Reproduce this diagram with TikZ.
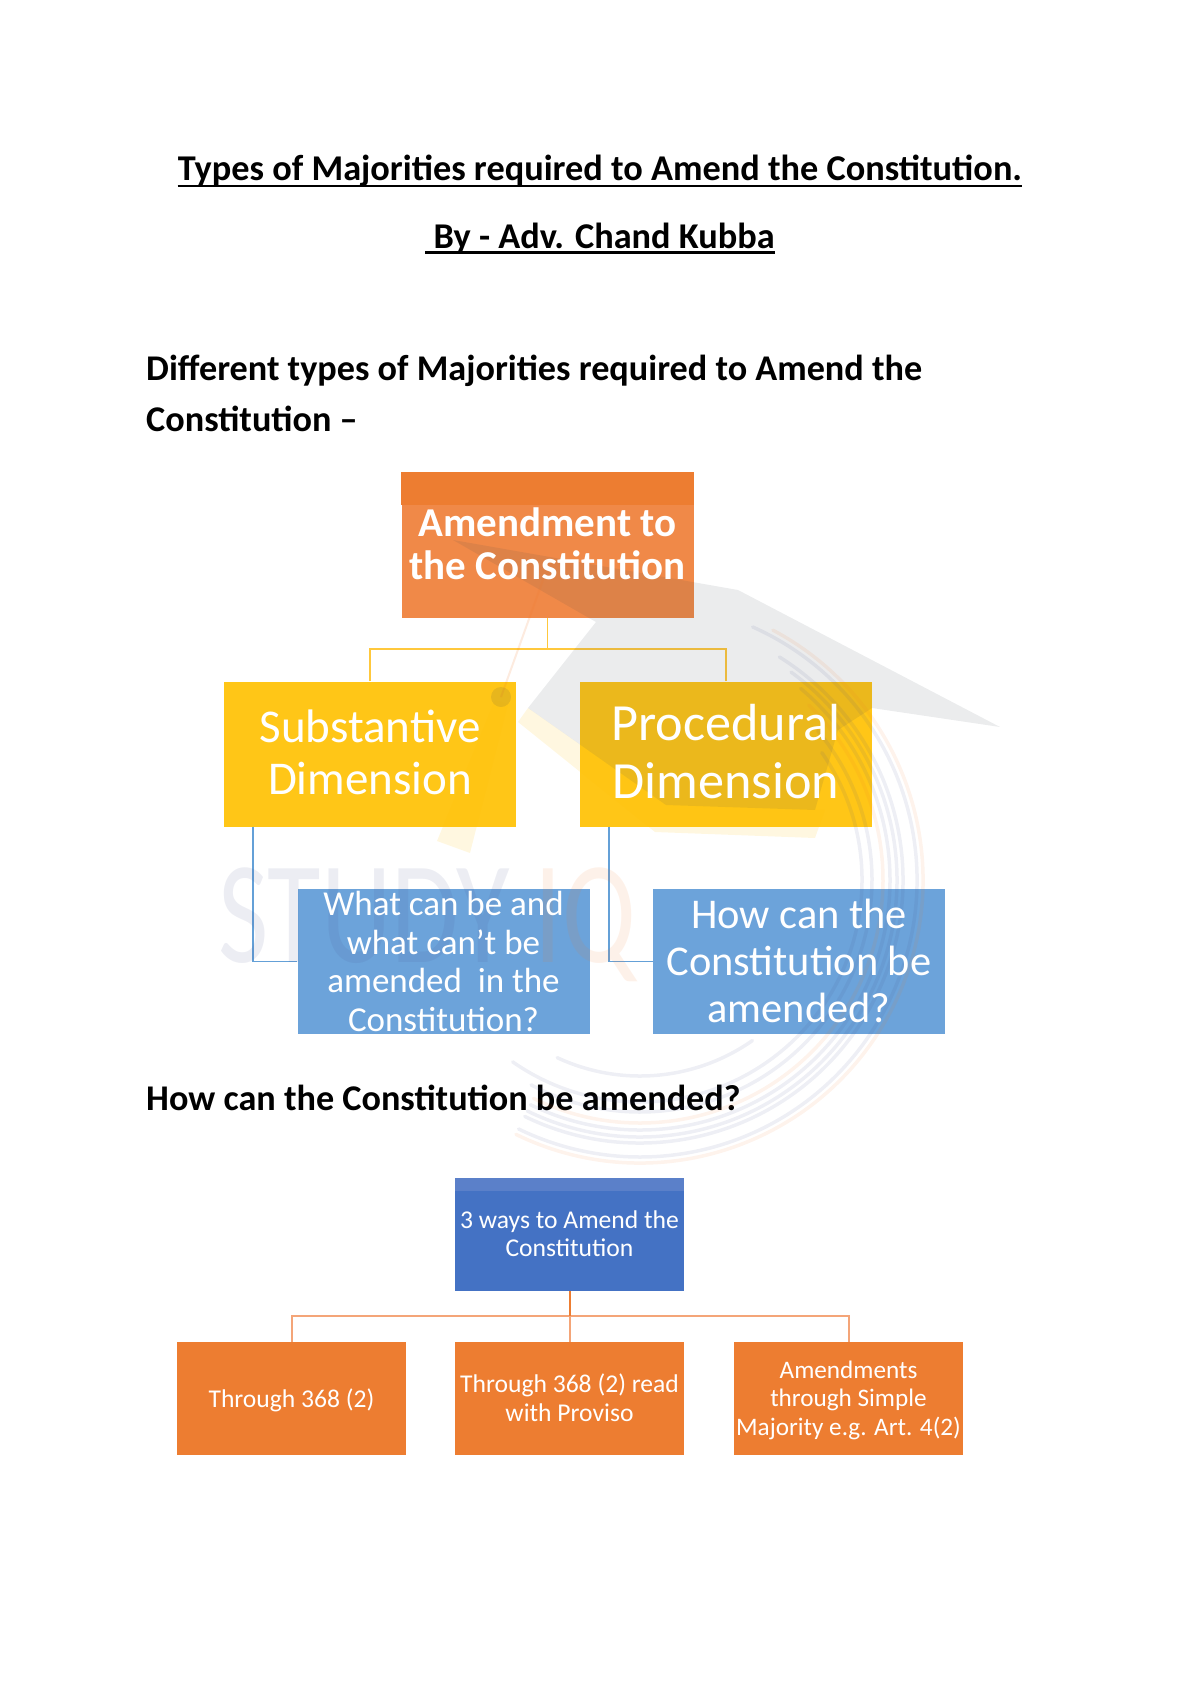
\documentclass[tikz,border=0pt]{standalone}
\usepackage{fontspec}
\setmainfont{Carlito}
\usepackage{tikz}
\usetikzlibrary{calc,positioning}
\definecolor{orangebox}{RGB}{237,125,49}
\definecolor{orangesoft}{RGB}{240,137,72}
\definecolor{yellowbox}{RGB}{255,198,23}
\definecolor{bluebox}{RGB}{108,163,218}
\definecolor{navybox}{RGB}{68,114,196}
\definecolor{navysoft}{RGB}{91,128,201}
\definecolor{yellowline}{RGB}{255,200,60}
\definecolor{blueline}{RGB}{100,160,215}
\definecolor{orangeline}{RGB}{244,165,120}
\definecolor{markgrey}{RGB}{60,70,80}
\definecolor{markblue}{RGB}{70,80,140}
\definecolor{markorange}{RGB}{240,120,40}
\definecolor{markyellow}{RGB}{255,190,0}
\tikzstyle{box}=[inner sep=0pt,align=center,text=white]
\tikzstyle{bigbox}=[box,minimum width=292pt,minimum height=145pt]
\tikzstyle{smallbox}=[box,fill=orangebox,minimum width=229pt,minimum height=113pt]
\tikzstyle{smalltext}=[box,font=\fontsize{25.6}{28.5}\selectfont]
\tikzstyle{heading}=[inner sep=0pt,anchor=base west,font=\fontsize{36.2}{40}\selectfont\bfseries]
\tikzstyle{titleline}=[inner sep=0pt,anchor=base,font=\fontsize{36.3}{40}\selectfont\bfseries]
\tikzstyle{ruleline}=[line width=2.2pt]
\tikzstyle{ring}=[line width=3.5pt,line cap=round,opacity=0.09]

\begin{document}
\begin{tikzpicture}[x=1pt,y=-1pt]
    \useasboundingbox (0,0) rectangle (1200,1696);
    \node[titleline] (title) at (600,181) {Types of Majorities required to Amend the Constitution.};
    \node[titleline] (author) at (600,248) {\ By - Adv. Chand Kubba};
    \draw[ruleline] ([yshift=-5pt]title.base west) -- ([yshift=-5pt]title.base east);
    \draw[ruleline,line width=3pt] ([yshift=-5pt]author.base west) -- ([yshift=-5pt]author.base east);
    \node[heading] (first) at (146,380) {Different types of Majorities required to Amend the};
    \node[heading] (second) at (146,431) {Constitution --};
    \node[heading] (third) at (146,1110) {How can the Constitution be amended?};

    % first chart
    \node[bigbox,fill=orangesoft] (top) at (547.5,545) {};
    \fill[orangebox] (top.north west) rectangle ($(top.north east)+(0,33)$);
    \node[bigbox,fill=yellowbox] (sub) at (370,754) {};
    \node[bigbox,fill=yellowbox] (proc) at (726,754) {};
    \node[bigbox,fill=bluebox] (what) at (443.5,961.5) {};
    \node[bigbox,fill=bluebox] (how) at (799,961.5) {};
    \coordinate (topjoin) at (547.5,649);
    \draw[yellowline,line width=1.5pt] (top.south) -- (topjoin);
    \draw[yellowline,line width=1.5pt] (sub.north) |- (topjoin);
    \draw[yellowline,line width=1.5pt] (proc.north) |- (topjoin);
    \draw[blueline,line width=1.5pt] ([xshift=-117pt]sub.south) |- (what.west);
    \draw[blueline,line width=1.5pt] ([xshift=-117pt]proc.south) |- (how.west);

    % second chart
    \node[smallbox,fill=navybox] (ways) at (569.5,1234.5) {};
    \fill[navysoft] (ways.north west) rectangle ($(ways.north east)+(0,13)$);
    \node[smallbox] (plain) at (291.5,1398.5) {};
    \node[smallbox] (proviso) at (569.5,1398.5) {};
    \node[smallbox] (simple) at (848.5,1398.5) {};
    \coordinate (waysjoin) at (569.5,1316);
    \draw[orangeline,line width=2pt] (plain.north) |- (waysjoin);
    \draw[orangeline,line width=2pt] (simple.north) |- (waysjoin);
    \draw[orangeline,line width=2pt] (proviso.north) -- (waysjoin);
    \draw[orangebox,line width=2pt] (ways.south) -- (waysjoin);

    % watermark
    \fill[markgrey,opacity=0.1] (453,540) -- (738,590) -- (1000,727) -- (872,708) -- (838,730) -- (815,810)
        -- (666,805) -- (528,708) -- (596,622) -- cycle;
    \fill[markyellow,opacity=0.12] (528,708) -- (666,805) -- (825,810) -- (815,838) -- (655,832) -- (518,722) -- cycle;
    \fill[markyellow,opacity=0.12] (495,700) -- (508,704) -- (470,853) -- (437,841) -- cycle;
    \draw[markorange,opacity=0.15,line width=2pt] (543,580) -- (501,697);
    \fill[markgrey,opacity=0.12] (501,697) circle[radius=10pt];
    \coordinate (ringcenter) at (640,880);
    \foreach \rad/\ang/\col in {283/62/markorange,277/66/markblue,263/58/markblue,257/54/markblue,250/50/markblue,243/46/markorange}
        \draw[ring,\col] ([shift={(\ang:\rad pt)}]ringcenter) arc[start angle=\ang,end angle=-116,radius=\rad pt];
    \foreach \rad/\ang/\fin in {232/40/-118,222/35/-125,196/-55/-115}
        \draw[ring,markblue] ([shift={(\ang:\rad pt)}]ringcenter) arc[start angle=\ang,end angle=\fin,radius=\rad pt];
    \node[inner sep=0pt,anchor=base west,xscale=0.75,text opacity=0.1,font=\fontsize{146}{146}\selectfont] (mark) at (218,962)
        {\color{markblue}STUDY \color{markorange}IQ};

    % box texts
    \node[box,font=\fontsize{41}{43}\selectfont\bfseries] (toptext) at (547.5,544) {Amendment to\\the Constitution};
    \node[box,font=\fontsize{47}{52}\selectfont] (subtext) at (370,752) {Substantive\\Dimension};
    \node[box,font=\fontsize{52.2}{58}\selectfont] (proctext) at (726,752) {Procedural\\Dimension};
    \node[box,font=\fontsize{35}{38.5}\selectfont] (whattext) at (what) {What can be and\\what can’t be\\amended\ \ in the\\Constitution?};
    \node[box,font=\fontsize{42.4}{47}\selectfont] (howtext) at (799,960.5) {How can the\\Constitution be\\amended?};
    \node[smalltext] (waystext) at (569.5,1233.5) {3 ways to Amend the\\Constitution};
    \node[smalltext] (plaintext) at (291.5,1400.5) {Through 368 (2)};
    \node[smalltext] (provisotext) at (569.5,1397.5) {Through 368 (2) read\\with Proviso};
    \node[smalltext,font=\fontsize{25.2}{28.5}\selectfont] (simpletext) at (848.5,1400) {Amendments\\through Simple\\Majority e.g. Art. 4(2)};
\end{tikzpicture}
\end{document}
